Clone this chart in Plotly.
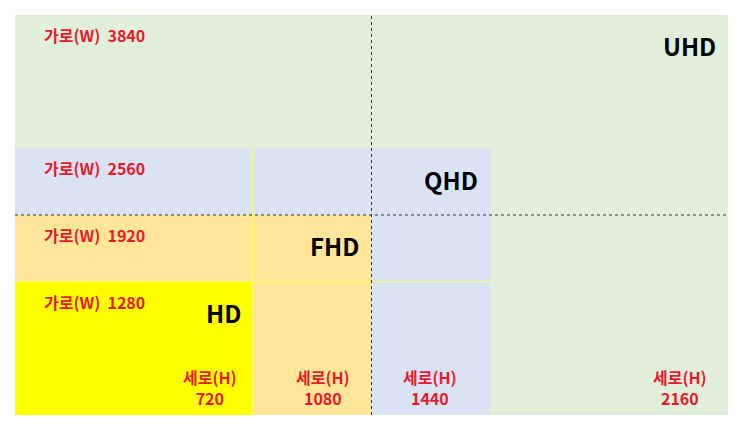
import plotly.graph_objects as go

names = ["UHD", "QHD", "FHD", "HD"]
widths = [3840, 2560, 1920, 1280]
heights = [2160, 1440, 1080, 720]
fills = ["#E2EFDA", "#DAE3F3", "#FFE699", "#FFFF00"]

fig = go.Figure()
W, H = widths[0], heights[0]
font = "Noto Sans CJK KR"
red = "#E8192C"
for n, w, h, c in zip(names, widths, heights, fills):
    fig.add_shape(type="rect", x0=0, y0=0, x1=w, y1=h, fillcolor=c, line=dict(width=0), layer="below")
fig.add_shape(type="line", x0=widths[3], x1=widths[3], y0=0, y1=heights[1], line=dict(color="#FFFF66", width=1))
fig.add_shape(type="line", x0=0, x1=widths[1], y0=heights[3], y1=heights[3], line=dict(color="#FFFF66", width=1))
fig.add_shape(type="line", x0=widths[2], x1=widths[2], y0=0, y1=H, line=dict(color="#333", width=1, dash="dot"))
fig.add_shape(type="line", x0=0, x1=W, y0=heights[2], y1=heights[2], line=dict(color="#333", width=1, dash="dot"))

for n, w, h in zip(names, widths, heights):
    fig.add_annotation(x=145, y=h - 108, text=f"<b>가로(W)  {w}</b>", showarrow=False, xanchor="left",
                       font=dict(family=font, size=16, color=red))
    fig.add_annotation(x=w - 54, y=h - 167, text=f"<b>{n}</b>", showarrow=False, xanchor="right",
                       font=dict(family=font, size=24, color="black"))

centers = [3581, 2235, 1659, 1050]
for h, cx in zip(heights, centers):
    fig.add_annotation(x=cx, y=146, text=f"<b>세로(H)<br>{h}</b>", showarrow=False,
                       font=dict(family=font, size=16, color=red))

fig.update_xaxes(range=[0, W], visible=False, showgrid=False)
fig.update_yaxes(range=[0, H], visible=False, showgrid=False)
fig.update_layout(width=740, height=432, margin=dict(l=7, r=20, t=7, b=25),
                  plot_bgcolor="white", paper_bgcolor="white", showlegend=False)
fig.write_html("out.html")
